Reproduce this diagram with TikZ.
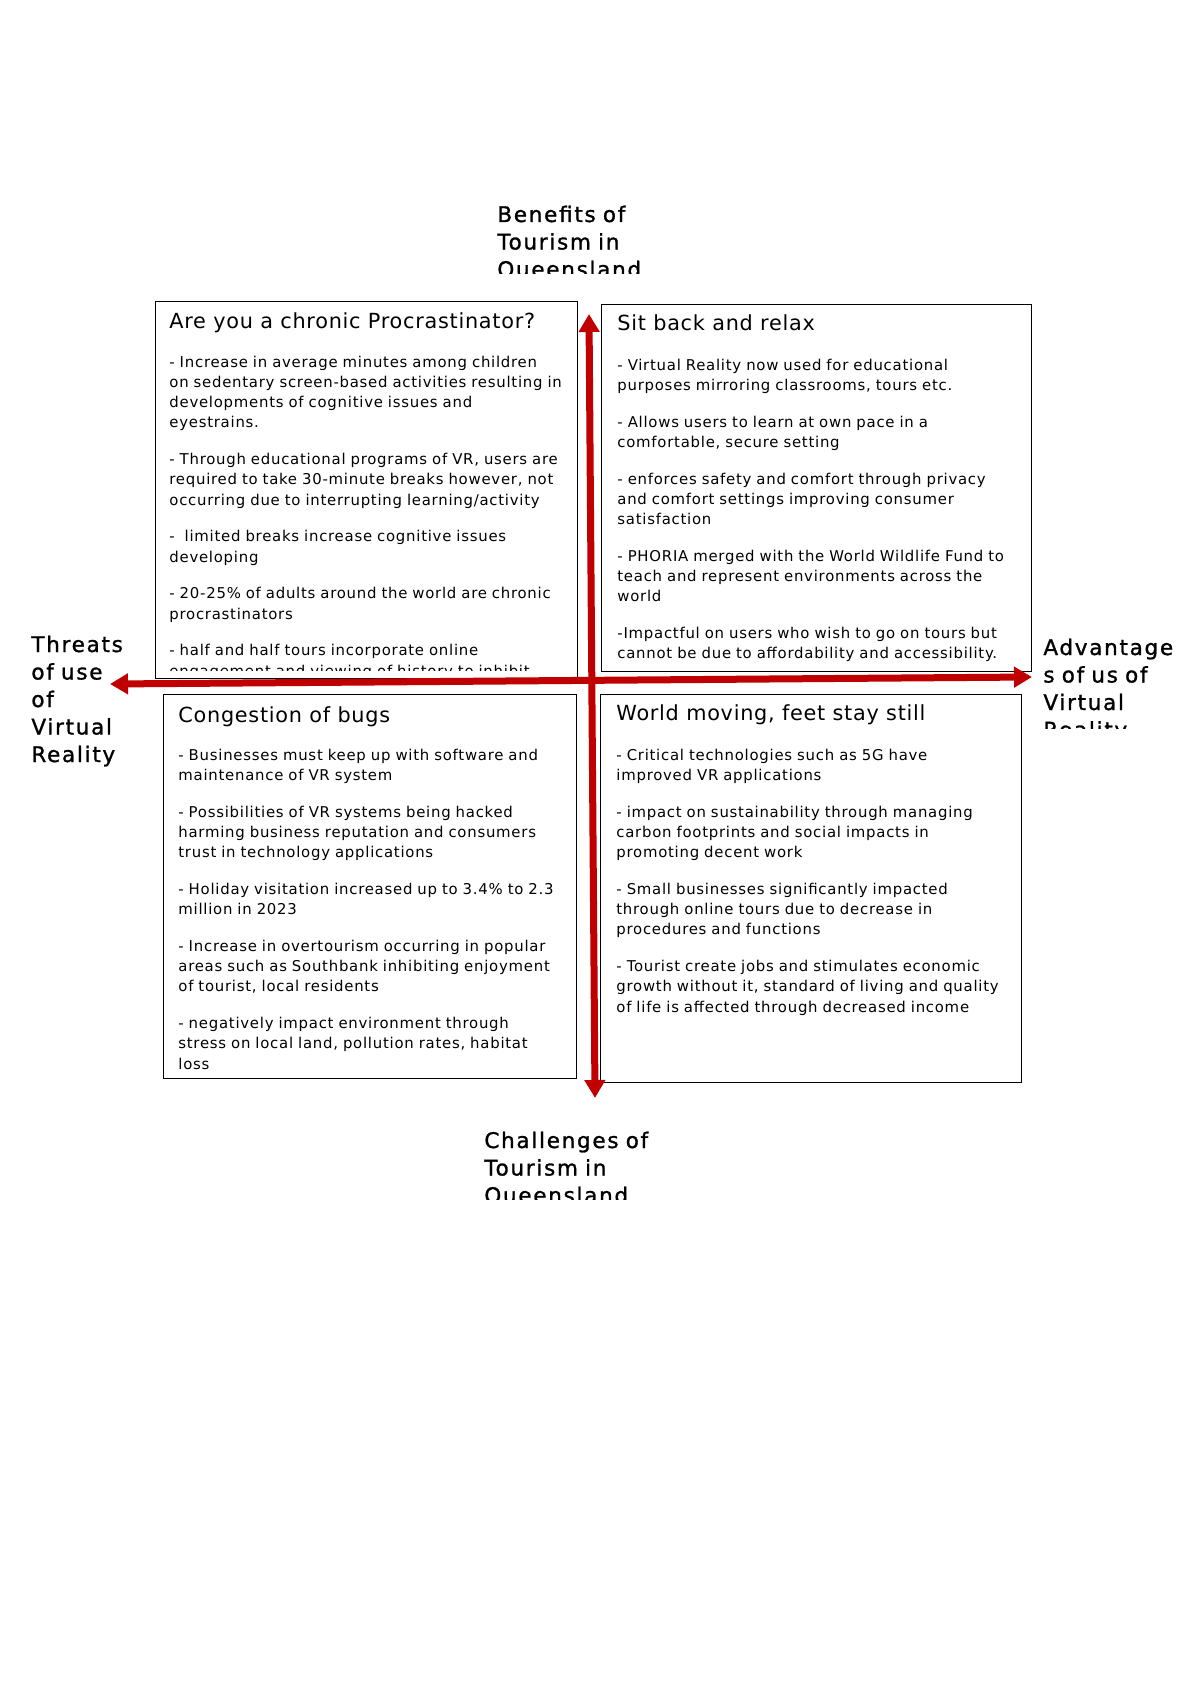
\documentclass[tikz,border=0pt]{standalone}
\usepackage{fontspec}
\setmainfont{DejaVu Sans}
\newfontfamily\bodyfont[LetterSpace=5]{DejaVu Sans}
\newfontfamily\titlefont[LetterSpace=3.5]{DejaVu Sans}
\newfontfamily\labelfont[LetterSpace=8, FakeBold=1.2]{DejaVu Sans}
\usetikzlibrary{arrows.meta}
\definecolor{axisred}{HTML}{C00000}
\begin{document}
\begin{tikzpicture}[x=0.5pt,y=-0.5pt,
  qbox/.style={draw=black, line width=0.6pt, fill=white, inner sep=0pt, anchor=north west},
  qtitle/.style={anchor=base west, inner sep=0pt, font=\titlefont\fontsize{10.4}{12.5}\selectfont},
  qbody/.style={anchor=base west, inner sep=0pt, text width=250pt, align=left, font=\bodyfont\fontsize{7.45}{10.15}\selectfont},
  axislabel/.style={anchor=base west, inner sep=0pt, text width=100pt, align=left, font=\labelfont\fontsize{10.75}{13.75}\selectfont},
  axisarrow/.style={draw=axisred, line width=3.5pt, {Triangle[width=10pt,length=9pt]}-{Triangle[width=10pt,length=9pt]}}]
\fill[white] (0,0) rectangle (1200,1696);
\useasboundingbox (0,0) rectangle (1200,1696);

% quadrant boxes
\node[qbox, minimum width=211pt, minimum height=188.5pt] (tlbox) at (155,301) {};
\node[qbox, minimum width=215pt, minimum height=183.5pt] (trbox) at (601,304) {};
\node[qbox, minimum width=206.5pt, minimum height=192pt] (blbox) at (163,694) {};
\node[qbox, minimum width=210.5pt, minimum height=194pt] (brbox) at (600,694) {};

% top left
\node[qtitle] (tltitle) at (169,328) {Are you a chronic Procrastinator?};
\begin{scope}
\clip (155,301) rectangle (577,670);
\node[qbody] (tlbody) at (169,367) {- Increase in average minutes among children\\
on sedentary screen-based activities resulting in\\
developments of cognitive issues and\\
eyestrains.\\[8.2pt]
- Through educational programs of VR, users are\\
required to take 30-minute breaks however, not\\
occurring due to interrupting learning/activity\\[8.2pt]
-\ \ limited breaks increase cognitive issues\\
developing\\[8.2pt]
- 20-25\% of adults around the world are chronic\\
procrastinators\\[8.2pt]
- half and half tours incorporate online\\
engagement and viewing of history to inhibit};
\end{scope}

% top right
\node[qtitle] (trtitle) at (617,330) {Sit back and relax};
\node[qbody] (trbody) at (617,370) {- Virtual Reality now used for educational\\
purposes mirroring classrooms, tours etc.\\[8.2pt]
- Allows users to learn at own pace in a\\
comfortable, secure setting\\[8.2pt]
- enforces safety and comfort through privacy\\
and comfort settings improving consumer\\
satisfaction\\[8.2pt]
- PHORIA merged with the World Wildlife Fund to\\
teach and represent environments across the\\
world\\[8.2pt]
-Impactful on users who wish to go on tours but\\
cannot be due to affordability and accessibility.};

% bottom left
\node[qtitle] (bltitle) at (178,722) {Congestion of bugs};
\node[qbody] (blbody) at (178,760) {- Businesses must keep up with software and\\
maintenance of VR system\\[8.2pt]
- Possibilities of VR systems being hacked\\
harming business reputation and consumers\\
trust in technology applications\\[8.2pt]
- Holiday visitation increased up to 3.4\% to 2.3\\
million in 2023\\[8.2pt]
- Increase in overtourism occurring in popular\\
areas such as Southbank inhibiting enjoyment\\
of tourist, local residents\\[8.2pt]
- negatively impact environment through\\
stress on local land, pollution rates, habitat\\
loss};

% bottom right
\node[qtitle] (brtitle) at (616,720) {World moving, feet stay still};
\node[qbody] (brbody) at (616,760) {- Critical technologies such as 5G have\\
improved VR applications\\[8.2pt]
- impact on sustainability through managing\\
carbon footprints and social impacts in\\
promoting decent work\\[8.2pt]
- Small businesses significantly impacted\\
through online tours due to decrease in\\
procedures and functions\\[8.2pt]
- Tourist create jobs and stimulates economic\\
growth without it, standard of living and quality\\
of life is affected through decreased income};

% axis labels
\begin{scope}
\clip (480,180) rectangle (720,273);
\node[axislabel] (benefits) at (497,222) {Benefits of\\Tourism in\\Queensland};
\end{scope}
\node[axislabel] (threats) at (31,652) {Threats\\of use\\of\\Virtual\\Reality};
\begin{scope}
\clip (1036,620) rectangle (1200,728);
\node[axislabel] (advantages) at (1043,655) {Advantage\\s of us of\\Virtual\\Reality};
\end{scope}
\begin{scope}
\clip (470,1110) rectangle (720,1199);
\node[axislabel] (challenges) at (484,1148) {Challenges of\\Tourism in\\Queensland};
\end{scope}

% axes
\coordinate (vtop) at (589,314);
\coordinate (vbot) at (595,1098);
\coordinate (hleft) at (110,684);
\coordinate (hright) at (1032,677);
\draw[axisarrow] (vbot) -- (vtop);
\draw[axisarrow] (hleft) -- (hright);
\end{tikzpicture}
\end{document}
